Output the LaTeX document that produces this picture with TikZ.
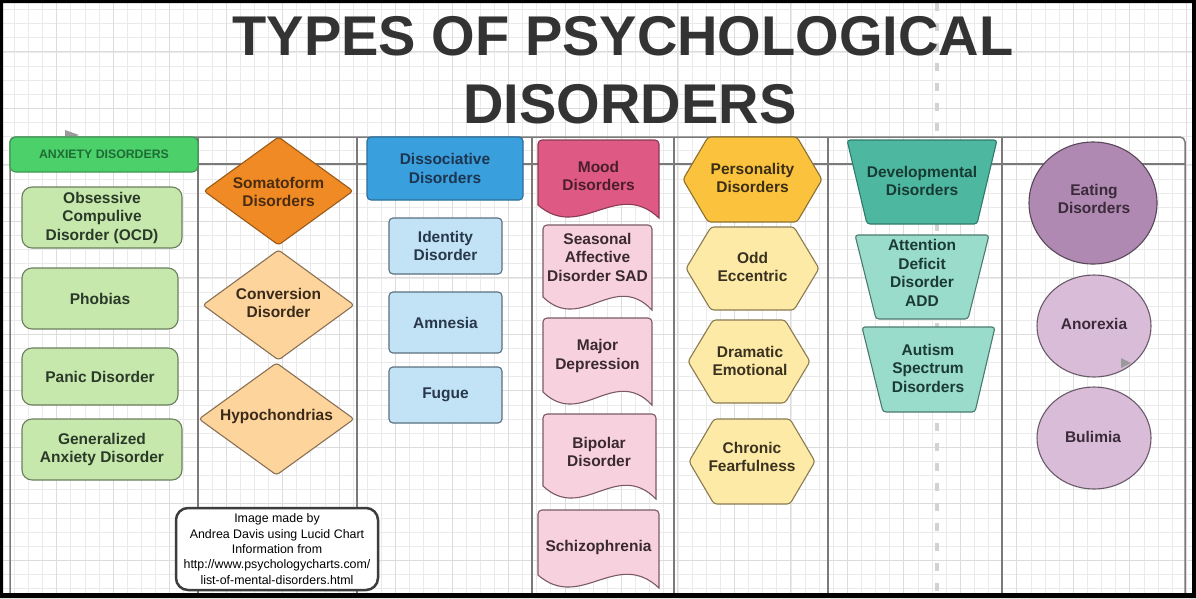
\documentclass[tikz,border=0pt]{standalone}
\usepackage{fontspec}
\setmainfont{Liberation Sans}
\definecolor{gmin}{HTML}{EAEAEA}
\definecolor{gmaj}{HTML}{DCDCDC}
\definecolor{lanec}{HTML}{7A7A7A}
\definecolor{titlec}{HTML}{333333}
\definecolor{anxHf}{HTML}{4CD06A}\definecolor{anxHd}{HTML}{3A9A50}\definecolor{anxHt}{HTML}{1F6B35}
\definecolor{anxIf}{HTML}{C6E8AC}\definecolor{anxId}{HTML}{6B7F5E}\definecolor{anxIt}{HTML}{2B3A28}
\definecolor{somHf}{HTML}{F08A24}\definecolor{somHd}{HTML}{9A5A18}\definecolor{somHt}{HTML}{4A2C10}
\definecolor{somIf}{HTML}{FDD49C}\definecolor{somId}{HTML}{8A7055}\definecolor{somIt}{HTML}{3A2A1A}
\definecolor{disHf}{HTML}{3A9FDD}\definecolor{disHd}{HTML}{2C6E9A}\definecolor{disHt}{HTML}{1C3550}
\definecolor{disIf}{HTML}{C2E3F6}\definecolor{disId}{HTML}{5A7080}\definecolor{disIt}{HTML}{28384A}
\definecolor{moodHf}{HTML}{DE5A84}\definecolor{moodHd}{HTML}{8A3A52}\definecolor{moodHt}{HTML}{4A1E2E}
\definecolor{moodIf}{HTML}{F8D1DE}\definecolor{moodId}{HTML}{7A5A66}\definecolor{moodIt}{HTML}{3A2A30}
\definecolor{perHf}{HTML}{FBC23D}\definecolor{perHd}{HTML}{8A7030}\definecolor{perHt}{HTML}{3A2E14}
\definecolor{perIf}{HTML}{FDEAA6}\definecolor{perId}{HTML}{8A7A50}\definecolor{perIt}{HTML}{3A3220}
\definecolor{devHf}{HTML}{4DB7A0}\definecolor{devHd}{HTML}{2F7A6A}\definecolor{devHt}{HTML}{183A34}
\definecolor{devIf}{HTML}{99DCCB}\definecolor{devId}{HTML}{4A7A6E}\definecolor{devIt}{HTML}{1C3A34}
\definecolor{eatHf}{HTML}{B089B2}\definecolor{eatHd}{HTML}{5A465A}\definecolor{eatHt}{HTML}{3A2A3A}
\definecolor{eatIf}{HTML}{D9BDD8}\definecolor{eatId}{HTML}{6A5A6A}\definecolor{eatIt}{HTML}{3A2A3A}
\definecolor{tric}{HTML}{9A9A9A}
\definecolor{dashc}{HTML}{D2D2D2}
\definecolor{creditd}{HTML}{3D3D3D}
\newcommand\mydiamond[5]{\draw[#5,rounded corners=3pt] ({#1-#3/2},#2) -- (#1,{#2-#4/2}) -- ({#1+#3/2},#2) -- (#1,{#2+#4/2}) -- cycle;}
\newcommand\myhex[5]{\draw[#5,rounded corners=3pt] (#1,{(#2+#4)/2}) -- ({#1+25},#2) -- ({#3-25},#2) -- (#3,{(#2+#4)/2}) -- ({#3-25},#4) -- ({#1+25},#4) -- cycle;}
\newcommand\mytrap[7]{\draw[#7,rounded corners=3pt] (#1,#3) -- (#2,#3) -- (#5,#6) -- (#4,#6) -- cycle;}
\newcommand\mydoc[5]{\draw[#5] (#1,{#4-13}) [rounded corners=4pt] -- (#1,#2) -- (#3,#2) [sharp corners] -- (#3,#4) .. controls ({#3-0.35*(#3-#1)},{#4-40}) and ({#1+0.35*(#3-#1)},{#4+24}) .. (#1,{#4-13}) -- cycle;}
\tikzset{
  gridminor/.style={draw=gmin,line width=0.8},
  gridmajor/.style={draw=gmaj,line width=1},
  lane/.style={draw=lanec,line width=1.5},
  dashline/.style={draw=dashc,line width=3.2,dash pattern=on 8 off 12},
  titlefont/.style={font=\bfseries\fontsize{56}{60}\selectfont,text=titlec,inner sep=0},
  lab/.style={font=\bfseries\fontsize{15.5}{18.5}\selectfont,align=center,inner sep=0},
  shp/.style={line width=1.1},
  anxH/.style={shp,fill=anxHf,draw=anxHd},
  anxI/.style={shp,fill=anxIf,draw=anxId,rounded corners=10pt,lab,text=anxIt},
  somH/.style={shp,fill=somHf,draw=somHd},
  somI/.style={shp,fill=somIf,draw=somId},
  disH/.style={shp,fill=disHf,draw=disHd,rounded corners=4pt,lab,text=disHt},
  disI/.style={shp,fill=disIf,draw=disId,rounded corners=4pt,lab,text=disIt},
  moodH/.style={shp,fill=moodHf,draw=moodHd},
  moodI/.style={shp,fill=moodIf,draw=moodId},
  perH/.style={shp,fill=perHf,draw=perHd},
  perI/.style={shp,fill=perIf,draw=perId},
  devH/.style={shp,fill=devHf,draw=devHd},
  devI/.style={shp,fill=devIf,draw=devId},
  eatH/.style={shp,fill=eatHf,draw=eatHd},
  eatI/.style={shp,fill=eatIf,draw=eatId},
  credit/.style={draw=creditd,line width=2.5,rounded corners=12pt,fill=white,font=\fontsize{12.4}{15.3}\selectfont,align=center,inner sep=0,text=black},
}
\begin{document}
\begin{tikzpicture}[x=1pt,y=-1pt]
\useasboundingbox (0,0) rectangle (1196,598);
\fill[white] (0,0) rectangle (1196,598);
% grid
\begin{scope}
\clip (3,3) rectangle (1192,593);
\foreach \i in {0,...,85} \draw[gridminor] ({0.2+\i*14.12},0) -- ({0.2+\i*14.12},598);
\foreach \i in {1,...,43} \draw[gridminor] (0,{-4.5+\i*14.12}) -- (1196,{-4.5+\i*14.12});
\foreach \i in {0,...,21} \draw[gridmajor] ({0.2+\i*56.48},0) -- ({0.2+\i*56.48},598);
\foreach \i in {1,...,11} \draw[gridmajor] (0,{-4.5+\i*56.48}) -- (1196,{-4.5+\i*56.48});
\end{scope}
% dashed guide
\coordinate (dtop) at (937,3);
\coordinate (dbot) at (937,593);
\draw[dashline] (dtop) -- (dbot);
% title
\node[titlefont,anchor=base] (t1) at (623,55) {TYPES OF PSYCHOLOGICAL};
\node[titlefont,anchor=base] (t2) at (630,123) {DISORDERS};
% lanes
\draw[lane,rounded corners=5pt] (10,593) -- (10,137) -- (1185,137) -- (1185,593);
\draw[lane] (10,164) -- (1185,164);
\foreach \x in {198,357,532,674,828,1002} \draw[lane] (\x,137) -- (\x,593);
% small arrowhead near anxiety header
\fill[tric] (65,130) -- (79,135) -- (65,140) -- cycle;
% Anxiety
\node[anxH,rounded corners=6pt,minimum width=188,minimum height=35,inner sep=0,font=\bfseries\fontsize{12.3}{14}\selectfont,text=anxHt] (anx) at (104,154.5) {ANXIETY DISORDERS};
\node[anxI,minimum width=160,minimum height=61] (ocd) at (102,217.5) {Obsessive\\Compulive\\Disorder (OCD)};
\node[anxI,minimum width=156,minimum height=61] (pho) at (100,298.5) {Phobias};
\node[anxI,minimum width=156,minimum height=57] (pan) at (100,376.5) {Panic Disorder};
\node[anxI,minimum width=160,minimum height=61] (gen) at (102,449.5) {Generalized\\Anxiety Disorder};
% Somatoform
\mydiamond{278.5}{191}{149}{108}{somH}
\node[lab,text=somHt] (som) at (278.5,192) {Somatoform\\Disorders};
\mydiamond{278.5}{305}{151}{110}{somI}
\node[lab,text=somIt] (conv) at (278.5,303) {Conversion\\Disorder};
\mydiamond{276.5}{419}{155}{112}{somI}
\node[lab,text=somIt] (hypo) at (276.5,416) {Hypochondrias};
% Dissociative
\node[disH,minimum width=156,minimum height=63] (dis) at (445,168.5) {Dissociative\\Disorders};
\node[disI,minimum width=113,minimum height=56] (ide) at (445.5,246) {Identity\\Disorder};
\node[disI,minimum width=113,minimum height=61] (amn) at (445.5,322.5) {Amnesia};
\node[disI,minimum width=113,minimum height=56] (fug) at (445.5,395) {Fugue};
% Mood
\mydoc{538}{140}{659}{218}{moodH}
\node[lab,text=moodHt] (mood) at (598.5,176) {Mood\\Disorders};
\mydoc{543}{225}{652}{310}{moodI}
\node[lab,text=moodIt] (sad) at (597.5,257) {Seasonal\\Affective\\Disorder SAD};
\mydoc{543}{318}{652}{405}{moodI}
\node[lab,text=moodIt] (maj) at (597.5,356) {Major\\Depression};
\mydoc{543}{414}{656}{499}{moodI}
\node[lab,text=moodIt] (bip) at (599,452) {Bipolar\\Disorder};
\mydoc{538}{510}{659}{588}{moodI}
\node[lab,text=moodIt] (sch) at (598.5,547) {Schizophrenia};
% Personality
\myhex{683}{137}{822}{222}{perH}
\node[lab,text=perHt] (per) at (752.5,178) {Personality\\Disorders};
\myhex{686}{227}{819}{310}{perI}
\node[lab,text=perIt] (odd) at (752.5,267) {Odd\\Eccentric};
\myhex{688}{320}{810}{403}{perI}
\node[lab,text=perIt] (dra) at (750,361) {Dramatic\\Emotional};
\myhex{689}{419}{815}{504}{perI}
\node[lab,text=perIt] (chr) at (752,457) {Chronic\\Fearfulness};
% Developmental
\mytrap{847}{997}{140}{867}{977}{224}{devH}
\node[lab,text=devHt] (dev) at (922,181) {Developmental\\Disorders};
\mytrap{855}{989}{235}{876}{968}{319}{devI}
\node[lab,text=devIt] (add) at (922,273) {Attention\\Deficit\\Disorder\\ADD};
\mytrap{862}{995}{327}{883}{975}{412}{devI}
\node[lab,text=devIt] (aut) at (928,368) {Autism\\Spectrum\\Disorders};
% Eating
\draw[eatH] (1093,203) ellipse [x radius=64,y radius=61];
\node[lab,text=eatHt] (eat) at (1094,199) {Eating\\Disorders};
\draw[eatI] (1094,326) ellipse [x radius=57,y radius=51];
\node[lab,text=eatIt] (ano) at (1094,324) {Anorexia};
\draw[eatI] (1094,438) ellipse [x radius=57,y radius=51];
\node[lab,text=eatIt] (bul) at (1093,437) {Bulimia};
\fill[tric] (1121,358) -- (1131,363) -- (1121,368) -- cycle;
% credit
\node[credit,minimum width=202,minimum height=82] (cred) at (277,549) {Image made by\\Andrea Davis using Lucid Chart\\Information from\\http://www.psychologycharts.com/\\list-of-mental-disorders.html};
% frame
\fill[black,even odd rule] (0,0) rectangle (1196,598) (3,3) rectangle (1192,593);
\end{tikzpicture}
\end{document}
